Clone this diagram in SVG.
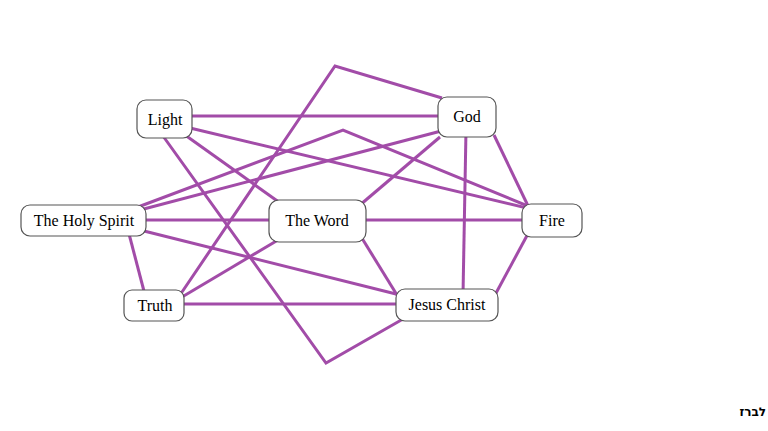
<svg xmlns="http://www.w3.org/2000/svg" width="768" height="431" viewBox="0 0 768 431">
<style>
.e{stroke:#a24ca8;stroke-width:3;fill:none}
.n rect{fill:#fff;stroke:#555;stroke-width:1.2}
.n text{font-family:"Liberation Serif",serif;font-size:16px;text-anchor:middle;fill:#000}
</style>
<rect width="768" height="431" fill="#fff"/>
<g id="connectors">
<line class="e" x1="165" y1="116" x2="467" y2="116"/>
<line class="e" x1="190" y1="128" x2="552" y2="214"/>
<line class="e" x1="185" y1="135" x2="290" y2="210"/>
<polyline class="e" points="163,136 326,363 410,315"/>
<polyline class="e" points="180,295 335,66 442,98"/>
<polyline class="e" points="130,210 343,130 552,216"/>
<line class="e" x1="140" y1="210" x2="445" y2="130"/>
<line class="e" x1="440" y1="137" x2="360" y2="205"/>
<line class="e" x1="466" y1="130" x2="463" y2="295"/>
<line class="e" x1="494" y1="135" x2="530" y2="210"/>
<line class="e" x1="85" y1="220" x2="317" y2="220"/>
<line class="e" x1="317" y1="220" x2="552" y2="220"/>
<line class="e" x1="140" y1="230" x2="420" y2="300"/>
<line class="e" x1="128" y1="230" x2="145" y2="295"/>
<line class="e" x1="182" y1="297" x2="278" y2="240"/>
<line class="e" x1="155" y1="304" x2="447" y2="304"/>
<line class="e" x1="360" y1="235" x2="397" y2="295"/>
<line class="e" x1="530" y1="230" x2="495" y2="295"/>
</g>
<g id="light" class="n"><rect x="137" y="100" width="55" height="38" rx="9"/><text x="165" y="125">Light</text></g>
<g id="god" class="n"><rect x="438" y="97" width="58" height="40" rx="9"/><text x="467" y="122">God</text></g>
<g id="holyspirit" class="n"><rect x="21" y="205" width="125" height="31" rx="9"/><text x="84" y="226">The Holy Spirit</text></g>
<g id="word" class="n"><rect x="269" y="200" width="97" height="42" rx="10"/><text x="317" y="226">The Word</text></g>
<g id="fire" class="n"><rect x="522" y="204" width="60" height="33" rx="9"/><text x="552" y="226">Fire</text></g>
<g id="truth" class="n"><rect x="124" y="290" width="60" height="31" rx="8"/><text x="155" y="311">Truth</text></g>
<g id="jesus" class="n"><rect x="396" y="289" width="102" height="32" rx="9"/><text x="447" y="310">Jesus Christ</text></g>
<text x="766" y="416" font-family="'DejaVu Sans',sans-serif" font-size="12" font-weight="bold" text-anchor="end">לברז</text>
</svg>
